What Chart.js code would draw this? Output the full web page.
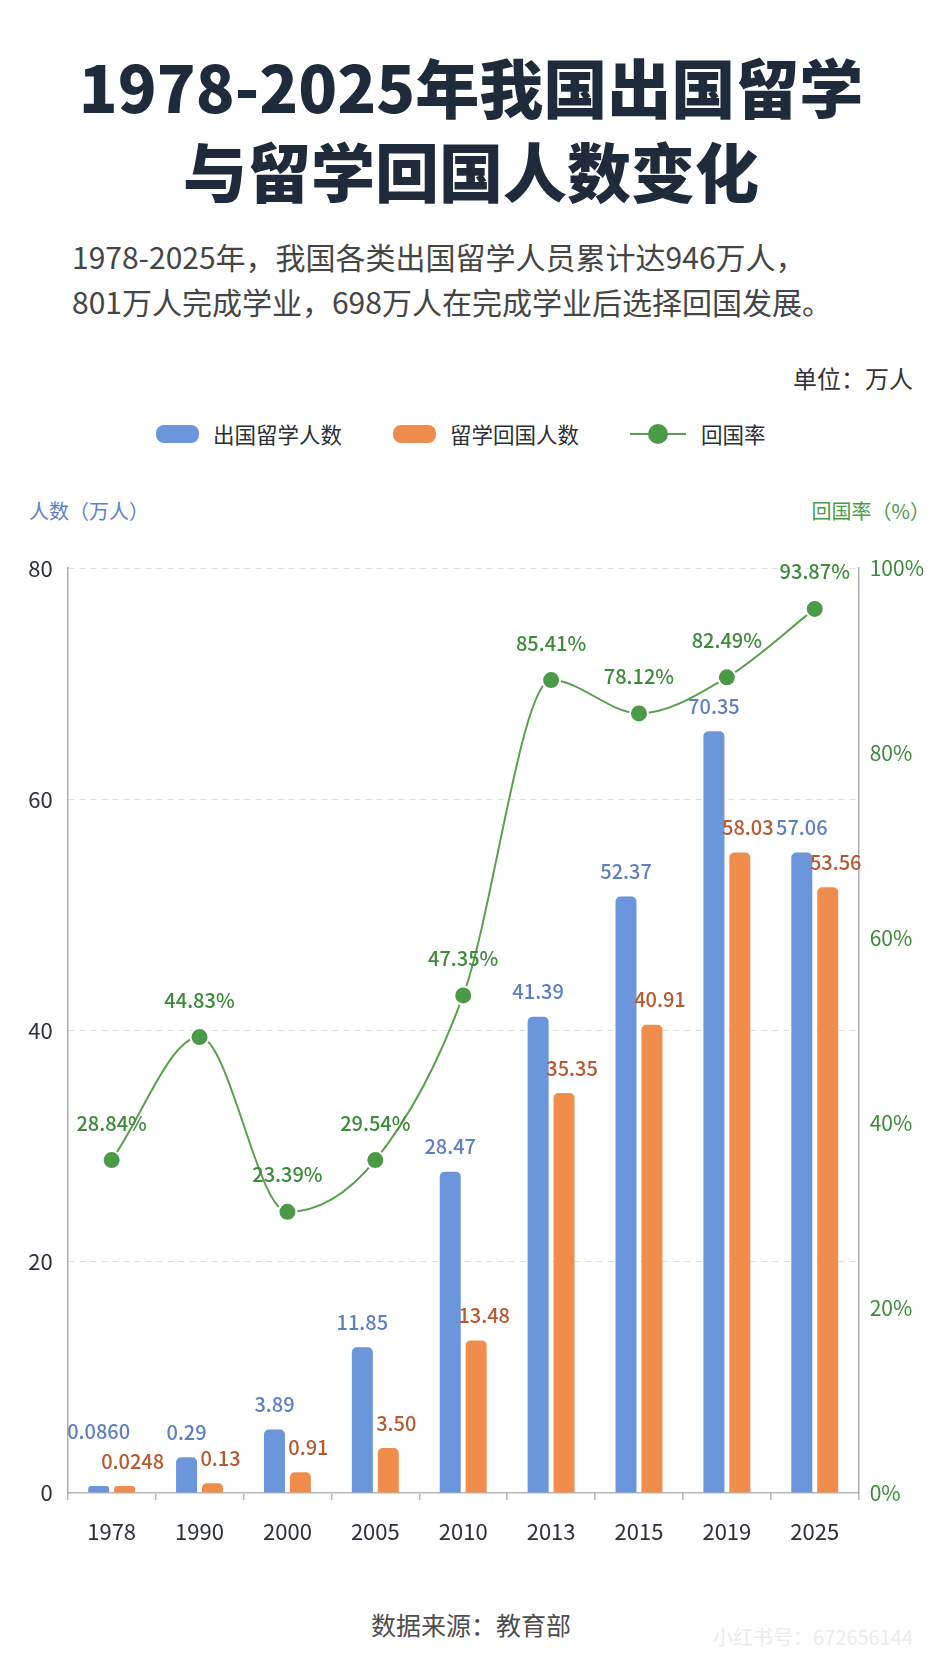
<!DOCTYPE html>
<html lang="zh-CN">
<head>
<meta charset="utf-8">
<title>1978-2025年我国出国留学与留学回国人数变化</title>
<script src="https://cdn.jsdelivr.net/npm/chart.js@4.4.1/dist/chart.umd.min.js"></script>
<style>
  html, body { margin: 0; padding: 0; background: #fff; }
  body {
    width: 942px; height: 1672px; position: relative; overflow: hidden;
    font-family: "Noto Sans CJK SC", "Noto Sans", sans-serif;
  }
  .abs { position: absolute; white-space: nowrap; }
  #title {
    top: 43px; left: 0; width: 942px; text-align: center;
    font-size: 64px; line-height: 84px; font-weight: 900; color: #1f2b3a;
  }
  #subtitle { top: 234px; left: 72px; font-size: 30px; line-height: 45px; color: #454545; }
  #unit { top: 363px; right: 29px; font-size: 24px; line-height: 30px; color: #333; }
  #legend { top: 419px; left: 156px; height: 30px; display: flex; align-items: center; }
  .lg-item { display: flex; align-items: center; font-size: 21.5px; line-height: 30px; color: #2b2f36; }
  .lg-pill { width: 43px; height: 18px; border-radius: 8px; margin-right: 14px; }
  .lg-line { position: relative; width: 56px; height: 20px; margin-right: 15px; }
  .lg-line i { position: absolute; left: 0; right: 0; top: 9px; height: 2px; }
  .lg-line b { position: absolute; left: 18px; top: 0; width: 20px; height: 20px; border-radius: 50%; }
  #yTitleL { top: 498px; left: 29px; font-size: 20px; line-height: 26px; color: #5b7fc7; }
  #yTitleR { top: 498px; right: 12px; font-size: 20px; line-height: 26px; color: #4a9a48; }
  #chartBox { top: 540px; left: 0; width: 942px; height: 1040px; }
  #source { top: 1607px; left: 0; width: 942px; text-align: center; font-size: 25px; line-height: 34px; color: #4d4d4d; }
  #mark { top: 1624px; right: 29px; font-size: 20px; line-height: 26px; color: #ececec; }
</style>
</head>
<body>
<div id="title" class="abs">1978-2025年我国出国留学<br>与留学回国人数变化</div>
<div id="subtitle" class="abs">1978-2025年，我国各类出国留学人员累计达946万人，<br>801万人完成学业，698万人在完成学业后选择回国发展。</div>
<div id="unit" class="abs">单位：万人</div>
<div id="legend" class="abs"></div>
<div id="yTitleL" class="abs">人数（万人）</div>
<div id="yTitleR" class="abs">回国率（%）</div>
<div id="chartBox" class="abs"><canvas id="chart" width="942" height="1040"></canvas></div>
<div id="source" class="abs">数据来源：教育部</div>
<div id="mark" class="abs">小红书号：672656144</div>

<script>
// categories
var years = ['1978', '1990', '2000', '2005', '2010', '2013', '2015', '2019', '2025'];

// bar heights as they are drawn in the picture (万人)
var outbound = [0.6, 3.1, 5.5, 12.6, 27.8, 41.2, 51.6, 65.9, 55.4];
var returned = [0.6, 0.85, 1.8, 3.9, 13.2, 34.6, 40.5, 55.4, 52.4];
// return rate points as drawn (%)
var returnRate = [36.0, 49.3, 30.4, 36.0, 53.8, 87.9, 84.3, 88.2, 95.6];

// value labels printed on the picture
var outboundLabels = ['0.0860', '0.29', '3.89', '11.85', '28.47', '41.39', '52.37', '70.35', '57.06'];
var returnedLabels = ['0.0248', '0.13', '0.91', '3.50', '13.48', '35.35', '40.91', '58.03', '53.56'];
var rateLabels = ['28.84%', '44.83%', '23.39%', '29.54%', '47.35%', '85.41%', '78.12%', '82.49%', '93.87%'];

// axis ticks
var leftTicks = [0, 20, 40, 60, 80];
var rightTicks = [0, 20, 40, 60, 80, 100];

var BLUE = '#6b96dc';
var ORANGE = '#f08d4d';
var GREEN = '#4b9a48';

Chart.defaults.font.family = '"Noto Sans CJK SC", "Noto Sans", sans-serif';

// draws the numbers above bars and points
var valueLabels = {
    id: 'valueLabels',
    afterDatasetsDraw: function(chart) {
        var ctx = chart.ctx;
        var blue = chart.getDatasetMeta(0).data;
        var orange = chart.getDatasetMeta(1).data;
        var line = chart.getDatasetMeta(2).data;
        ctx.save();
        ctx.textAlign = 'center';
        ctx.textBaseline = 'middle';
        ctx.font = '500 20px "Noto Sans CJK SC", "Noto Sans", sans-serif';
        for (var i = 0; i < years.length; i++) {
            var oy = orange[i].y - 25;
            var by = blue[i].y - 25;
            // keep the two bar labels from sitting on top of each other
            if (Math.abs(by - oy) < 20) by = oy - 30;
            ctx.fillStyle = '#5f7fc0';
            ctx.fillText(outboundLabels[i], blue[i].x, by);
            ctx.fillStyle = '#b9582f';
            ctx.fillText(returnedLabels[i], orange[i].x + 8, oy);
            ctx.fillStyle = '#3d8a3a';
            ctx.fillText(rateLabels[i], line[i].x, line[i].y - 37);
        }
        ctx.restore();
    }
};

var chart = new Chart(document.getElementById('chart').getContext('2d'), {
    data: {
        labels: years,
        datasets: [
            {
                type: 'bar', label: '出国留学人数', data: outbound, yAxisID: 'y', order: 1,
                backgroundColor: BLUE, borderRadius: 5,
                categoryPercentage: 0.59, barPercentage: 0.81
            },
            {
                type: 'bar', label: '留学回国人数', data: returned, yAxisID: 'y', order: 1,
                backgroundColor: ORANGE, borderRadius: 5,
                categoryPercentage: 0.59, barPercentage: 0.81
            },
            {
                type: 'line', label: '回国率', data: returnRate, yAxisID: 'y1', order: 0,
                borderColor: '#5c9e50', borderWidth: 2,
                tension: 0.4, cubicInterpolationMode: 'monotone',
                pointRadius: 9, pointBackgroundColor: GREEN,
                pointBorderColor: '#ffffff', pointBorderWidth: 2
            }
        ]
    },
    options: {
        responsive: false,
        animation: false,
        layout: { padding: { top: 27.7, left: 0, right: 0, bottom: 0 } },
        plugins: { legend: { display: false }, tooltip: { enabled: false } },
        scales: {
            x: {
                grid: { drawOnChartArea: false, drawTicks: true, tickLength: 7, color: '#b3b7bd', lineWidth: 1.5 },
                border: { color: '#b3b7bd', width: 1.5 },
                ticks: { color: '#2a2f38', font: { size: 22 }, padding: 18 },
                afterFit: function(s) { s.height = 87; }
            },
            y: {
                position: 'left', min: 0, max: 80,
                grid: {
                    drawTicks: false, lineWidth: 1,
                    color: function(c) { return c.tick && c.tick.value === 0 ? 'rgba(0,0,0,0)' : '#dedede'; }
                },
                border: { color: '#a9adb3', width: 1.5, dash: [6, 5] },
                ticks: { color: '#2a2f38', font: { size: 22 }, padding: 15 },
                afterBuildTicks: function(s) { s.ticks = leftTicks.map(function(v) { return { value: v }; }); },
                afterFit: function(s) { s.width = 67.7; }
            },
            y1: {
                position: 'right', min: 0, max: 100,
                grid: { drawOnChartArea: false, drawTicks: false },
                border: { color: '#a9adb3', width: 1.5 },
                ticks: { color: '#3d8a3a', font: { size: 21 }, padding: 11, callback: function(v) { return v + '%'; } },
                afterBuildTicks: function(s) { s.ticks = rightTicks.map(function(v) { return { value: v }; }); },
                afterFit: function(s) { s.width = 83.3; }
            }
        }
    },
    plugins: [valueLabels]
});

// html legend built from the datasets
var legend = document.getElementById('legend');
chart.data.datasets.forEach(function(ds, i) {
    var item = document.createElement('div');
    item.className = 'lg-item';
    if (i > 0) item.style.marginLeft = '51px';
    var mark = document.createElement('span');
    if (ds.type === 'bar') {
        mark.className = 'lg-pill';
        mark.style.background = ds.backgroundColor;
    } else {
        mark.className = 'lg-line';
        mark.innerHTML = '<i style="background:' + ds.borderColor + '"></i><b style="background:' + ds.pointBackgroundColor + '"></b>';
    }
    item.appendChild(mark);
    item.appendChild(document.createTextNode(ds.label));
    legend.appendChild(item);
});
</script>
</body>
</html>
